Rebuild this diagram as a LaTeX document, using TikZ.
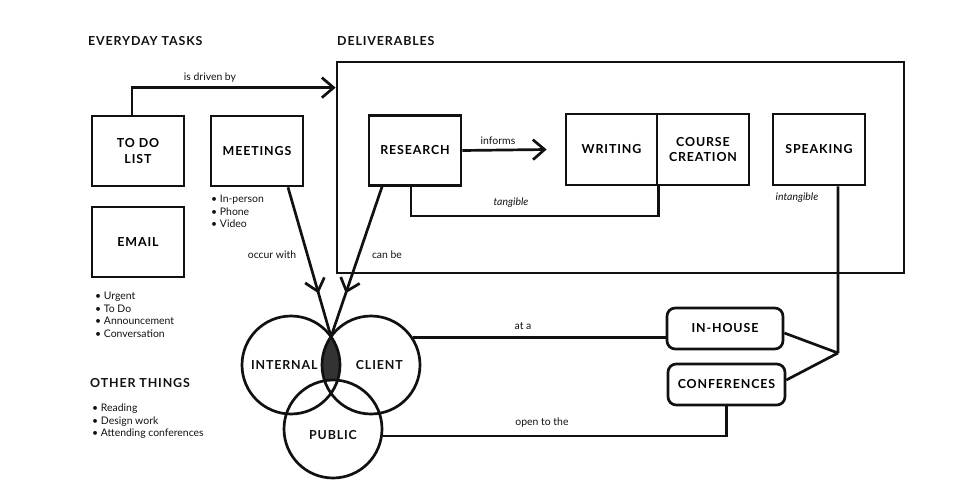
\documentclass[tikz,border=0pt]{standalone}
\usepackage{fontspec}
\setmainfont{Lato}
\newfontfamily\capsfont{Lato}[LetterSpace=7]
\usetikzlibrary{positioning,arrows.meta,decorations.markings,calc}
\definecolor{ink}{HTML}{111111}
\definecolor{lens}{HTML}{333333}
\tikzset{
  blk/.style={draw=ink, line width=2.3pt, align=center, inner sep=2pt,
              minimum width=2.76cm, minimum height=2.1cm,
              font={\capsfont\bfseries\fontsize{10.6}{13.4}\selectfont}},
  rblk/.style={blk, rounded corners=7pt, minimum width=3.48cm, minimum height=1.23cm},
  circ/.style={draw=ink, line width=2.3pt, circle, minimum size=2.94cm, inner sep=0pt},
  clbl/.style={font={\capsfont\bfseries\fontsize{10.6}{13}\selectfont}, text=ink},
  frame/.style={draw=ink, line width=2.3pt, minimum width=17.01cm, minimum height=6.33cm, inner sep=0pt},
  hdr/.style={anchor=west, inner sep=0pt, text=ink,
              font={\capsfont\bfseries\fontsize{10.6}{13}\selectfont}},
  blist/.style={anchor=north west, align=left, inner sep=0pt, text=ink,
                font={\fontsize{8.9}{10.7}\selectfont}},
  lbl/.style={inner sep=1pt, text=ink, font={\fontsize{8.9}{10}\selectfont}},
  ilbl/.style={lbl, font={\itshape\fontsize{8.9}{10}\selectfont}},
  link/.style={draw=ink, line width=2.3pt},
  arr/.style={link, -{Straight Barb[length=3.5mm,width=6mm]}},
  midarr/.style={postaction={decorate}, decoration={markings,
      mark=at position 0.71 with {\arrow[line width=2.3pt]{Straight Barb[length=3.5mm,width=6mm]}}}},
}

\begin{document}
\begin{tikzpicture}[x=0.03cm,y=-0.03cm]
\useasboundingbox (0,0) rectangle (968,500);
% headings
\node[hdr] (hevery) at (88,41) {EVERYDAY TASKS};
\node[hdr] (hdeliv) at (337,41) {DELIVERABLES};
\node[hdr] (hother) at (90,383) {OTHER THINGS};
% everyday tasks
\node[blk] (todo) at (138,151) {TO DO\\LIST};
\node[blk] (meet) at (257,151) {MEETINGS};
\node[blk] (email) at (138,242) {EMAIL};
\node[blist] (meetlist) at (211,195) {\textbullet\ In-person\\\textbullet\ Phone\\\textbullet\ Video};
\node[blist] (emaillist) at (95,292) {\textbullet\ Urgent\\\textbullet\ To Do\\\textbullet\ Announcement\\\textbullet\ Conversation};
\node[blist] (otherlist) at (92,404) {\textbullet\ Reading\\\textbullet\ Design work\\\textbullet\ Attending conferences};
% deliverables
\node[frame] (deliv) at (620.5,167.5) {};
\node[blk] (research) at (415,150.5) {RESEARCH};
\node[blk, minimum width=2.73cm, minimum height=2.13cm] (writing) at (611.5,149.5) {WRITING};
\node[blk, minimum height=2.13cm] (course) at (703,149.5) {COURSE\\CREATION};
\node[blk, minimum height=2.13cm] (speak) at (819,149.5) {SPEAKING};
% audiences
\coordinate (cint) at (291,365);
\coordinate (ccli) at (371,365);
\coordinate (cpub) at (333,429);
\coordinate (lenstop) at (331,336.7);
\begin{scope}
  \clip (cint) circle[radius=1.47cm];
  \fill[lens] (ccli) circle[radius=1.47cm];
\end{scope}
\fill[white] (cpub) circle[radius=1.47cm];
\node[circ, label={[clbl,xshift=-0.2cm]center:INTERNAL}] (internal) at (cint) {};
\node[circ, label={[clbl,xshift=0.25cm]center:CLIENT}] (client) at (ccli) {};
\node[circ, label={[clbl,yshift=-0.18cm]center:PUBLIC}] (public) at (cpub) {};
% venues
\node[rblk] (inhouse) at (725,328.5) {IN-HOUSE};
\node[rblk, minimum width=3.51cm] (conf) at (726.5,384.5) {CONFERENCES};
\coordinate (fork) at (838,353);
% connectors
\draw[arr] ([xshift=-0.18cm]todo.north) |- ([yshift=-0.81cm]deliv.north west);
\node[lbl] (ldriven) at (210,78) {is driven by};
\draw[arr] (research.east) -- ([xshift=-0.54cm]writing.west);
\node[lbl] (linforms) at (498,141) {informs};
\draw[link] ([xshift=-0.12cm]research.south) -- ++(0,29) -| (writing.south east);
\node[ilbl] (ltangible) at (511,203) {tangible};
\draw[link] ([xshift=0.57cm]speak.south) -- (fork);
\node[ilbl] (lintangible) at (797,198) {intangible};
\draw[link] (fork) -- ([yshift=-0.135cm]inhouse.east);
\draw[link] (fork) -- ([yshift=0.135cm]conf.east);
\draw[link, midarr] ([xshift=0.93cm]meet.south) -- (lenstop);
\node[lbl] (loccur) at (272,255) {occur with};
\draw[link, midarr] ([xshift=-0.99cm]research.south) -- (lenstop);
\node[lbl] (lcanbe) at (387,255) {can be};
\draw[link] (client.33) -- (client.33 -| inhouse.west);
\node[lbl] (lata) at (523,326) {at a};
\draw[link] (public.-8) -| (conf.south);
\node[lbl] (lopen) at (542,423) {open to the};
\end{tikzpicture}
\end{document}
